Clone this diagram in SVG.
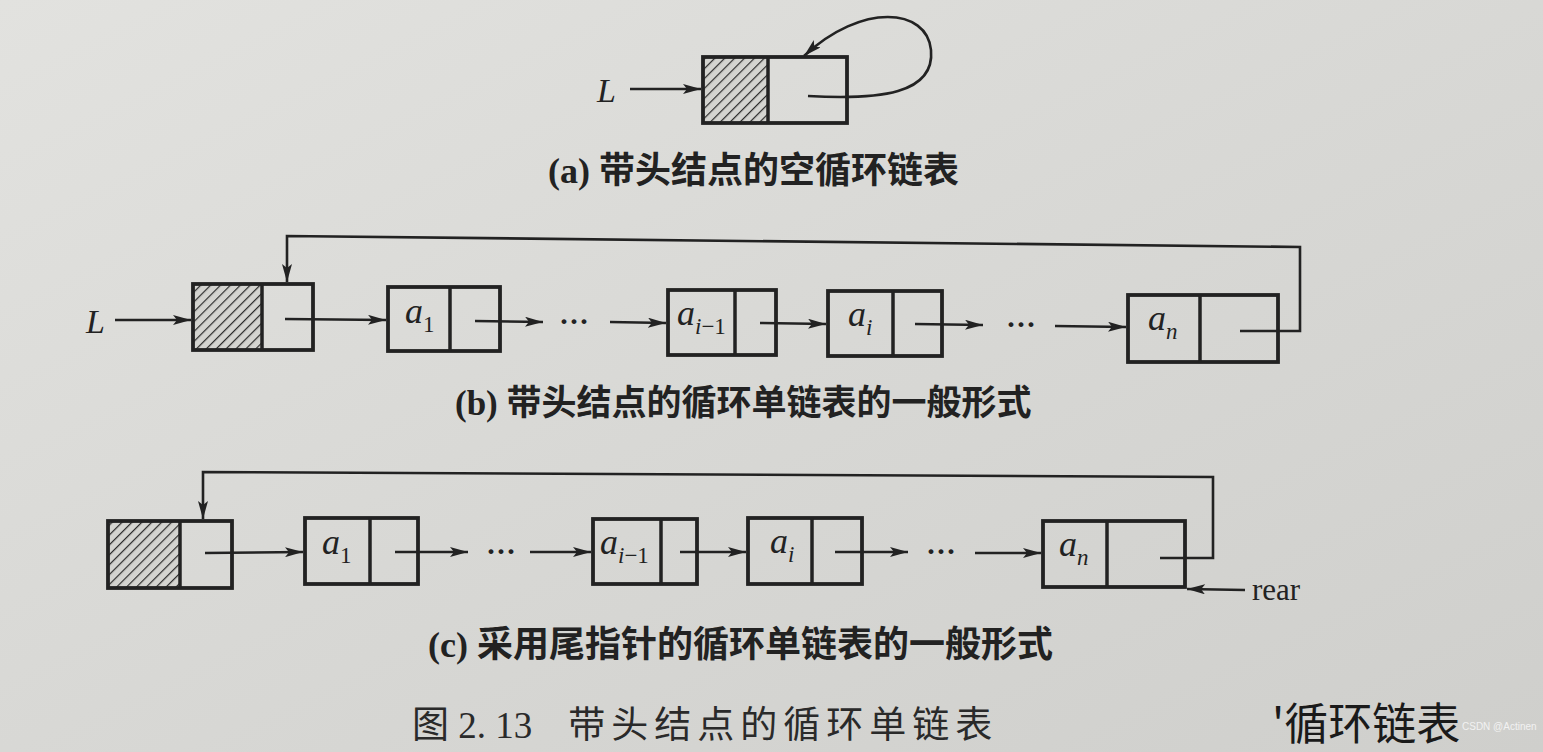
<svg xmlns="http://www.w3.org/2000/svg" width="1543" height="752" viewBox="0 0 1543 752">
<defs>
  <linearGradient id="bg" x1="0" y1="0" x2="1" y2="1">
    <stop offset="0" stop-color="#e2e2df"/>
    <stop offset="0.5" stop-color="#d8d8d5"/>
    <stop offset="1" stop-color="#cfcfcc"/>
  </linearGradient>
  <pattern id="hatch" patternUnits="userSpaceOnUse" width="7" height="7" patternTransform="rotate(45)">
    <rect width="7" height="7" fill="#d4d4d0"/>
    <line x1="0" y1="0" x2="0" y2="7" stroke="#2a2a2a" stroke-width="2.4"/>
  </pattern>
  <marker id="ah" viewBox="0 0 18 10" refX="18" refY="5" markerWidth="18" markerHeight="10" markerUnits="userSpaceOnUse" orient="auto">
    <path d="M0,0 L18,5 L0,10 L4,5 z" fill="#222"/>
  </marker>
  <style>
    .box{fill:none;stroke:#222;stroke-width:3.8}
    .div{stroke:#222;stroke-width:3.5}
    .hatch{fill:url(#hatch);stroke:none}
    .arr{fill:none;stroke:#222;stroke-width:2.6;marker-end:url(#ah)}
    .lbl{font-family:"Liberation Serif",serif;font-style:italic;font-size:36px;fill:#222}
    .sub{font-size:23px}
    .up{font-style:normal}
    .dots{font-family:"Liberation Serif",serif;font-size:30px;fill:#222;font-weight:bold;text-anchor:middle}
    .cap{font-family:"Liberation Serif","Noto Sans CJK SC",serif;font-weight:bold;fill:#222}
    .fig{font-family:"Liberation Serif","Noto Sans CJK SC",serif;font-size:37px;fill:#2a2a2a}
    .L{font-family:"Liberation Serif",serif;font-style:italic;font-size:34px;fill:#222}
  </style>
</defs>
<rect width="1543" height="752" fill="url(#bg)"/>

<g id="partA">
  <g id="a-head">
    <rect class="hatch" x="703" y="57" width="65" height="66"/>
    <rect class="box" x="703" y="57" width="144" height="66"/>
    <line class="div" x1="768" y1="57" x2="768" y2="123"/>
  </g>
  <text class="L" x="597" y="102">L</text>
</g>

<g id="partB">
  <g id="b-head">
    <rect class="hatch" x="193" y="284" width="69" height="66"/>
    <rect class="box" x="193" y="284" width="120" height="66"/>
    <line class="div" x1="262" y1="284" x2="262" y2="350"/>
  </g>
  <g id="b-a1">
    <rect class="box" x="388" y="287" width="112" height="64"/>
    <line class="div" x1="450" y1="287" x2="450" y2="351"/>
    <text class="lbl" x="405" y="323">a<tspan class="sub up" dy="9">1</tspan></text>
  </g>
  <g id="b-ai1">
    <rect class="box" x="668" y="290" width="108" height="65"/>
    <line class="div" x1="735" y1="290" x2="735" y2="355"/>
    <text class="lbl" x="677" y="325">a<tspan class="sub" dy="9">i</tspan><tspan class="sub up">−1</tspan></text>
  </g>
  <g id="b-ai">
    <rect class="box" x="828" y="291" width="114" height="65"/>
    <line class="div" x1="893" y1="291" x2="893" y2="356"/>
    <text class="lbl" x="848" y="326">a<tspan class="sub" dy="9">i</tspan></text>
  </g>
  <g id="b-an">
    <rect class="box" x="1128" y="295" width="150" height="67"/>
    <line class="div" x1="1200" y1="295" x2="1200" y2="362"/>
    <text class="lbl" x="1148" y="330">a<tspan class="sub" dy="9">n</tspan></text>
  </g>
  <text class="dots" x="574" y="331">···</text>
  <text class="dots" x="1021" y="334">···</text>
  <text class="L" x="86" y="333">L</text>
</g>

<g id="partC">
  <g id="c-head">
    <rect class="hatch" x="108" y="521" width="72" height="67"/>
    <rect class="box" x="108" y="521" width="124" height="67"/>
    <line class="div" x1="180" y1="521" x2="180" y2="588"/>
  </g>
  <g id="c-a1">
    <rect class="box" x="305" y="518" width="113" height="66"/>
    <line class="div" x1="370" y1="518" x2="370" y2="584"/>
    <text class="lbl" x="322" y="554">a<tspan class="sub up" dy="9">1</tspan></text>
  </g>
  <g id="c-ai1">
    <rect class="box" x="593" y="519" width="104" height="65"/>
    <line class="div" x1="661" y1="519" x2="661" y2="584"/>
    <text class="lbl" x="600" y="554">a<tspan class="sub" dy="9">i</tspan><tspan class="sub up">−1</tspan></text>
  </g>
  <g id="c-ai">
    <rect class="box" x="748" y="518" width="114" height="66"/>
    <line class="div" x1="812" y1="518" x2="812" y2="584"/>
    <text class="lbl" x="770" y="553">a<tspan class="sub" dy="9">i</tspan></text>
  </g>
  <g id="c-an">
    <rect class="box" x="1043" y="521" width="142" height="66"/>
    <line class="div" x1="1107" y1="521" x2="1107" y2="587"/>
    <text class="lbl" x="1059" y="556">a<tspan class="sub" dy="9">n</tspan></text>
  </g>
  <text class="dots" x="501" y="561">···</text>
  <text class="dots" x="941" y="561">···</text>
  <text x="1252" y="600" style="font-family:'Liberation Serif',serif;font-size:31px;fill:#222">rear</text>
</g>

<g id="connectors">
  <!-- (a) -->
  <line class="arr" x1="630" y1="89" x2="701" y2="89"/>
  <path class="arr" d="M808,96 C880,100 935,94 931,50 C927,8 862,2 804,56"/>
  <!-- (b) -->
  <line class="arr" x1="115" y1="320" x2="191" y2="320"/>
  <line class="arr" x1="285" y1="319" x2="386" y2="320"/>
  <line class="arr" x1="475" y1="321" x2="543" y2="322"/>
  <line class="arr" x1="610" y1="322" x2="666" y2="323"/>
  <line class="arr" x1="760" y1="323" x2="826" y2="324"/>
  <line class="arr" x1="915" y1="324" x2="983" y2="325"/>
  <line class="arr" x1="1055" y1="326" x2="1126" y2="327"/>
  <path class="arr" d="M1240,331 L1300,331 L1300,247 L287,236 L287,282"/>
  <!-- (c) -->
  <line class="arr" x1="205" y1="553" x2="303" y2="552"/>
  <line class="arr" x1="395" y1="552" x2="468" y2="552"/>
  <line class="arr" x1="530" y1="552" x2="591" y2="552"/>
  <line class="arr" x1="680" y1="552" x2="746" y2="552"/>
  <line class="arr" x1="835" y1="552" x2="908" y2="552"/>
  <line class="arr" x1="975" y1="553" x2="1041" y2="553"/>
  <path class="arr" d="M1160,558 L1213,558 L1213,477 L203,472 L203,519"/>
  <line class="arr" x1="1245" y1="590" x2="1187" y2="589"/>
</g>

<g id="captions">
  <text class="cap" x="548" y="183" font-size="36">(a) 带头结点的空循环链表</text>
  <text class="cap" x="455" y="415" font-size="35">(b) 带头结点的循环单链表的一般形式</text>
  <text class="cap" x="428" y="657" font-size="36">(c) 采用尾指针的循环单链表的一般形式</text>
  <text class="fig" x="412" y="738">图 2. 13<tspan dx="36" letter-spacing="6">带头结点的循环单链表</tspan></text>
</g>

<text x="1272" y="740" style="font-family:'Noto Sans CJK SC',sans-serif;font-size:44px;fill:#1a1a1a">'循环链表</text>
<text x="1462" y="730" style="font-family:'Liberation Sans',sans-serif;font-size:10px;fill:#f2f2f2">CSDN @Actinen</text>
</svg>
